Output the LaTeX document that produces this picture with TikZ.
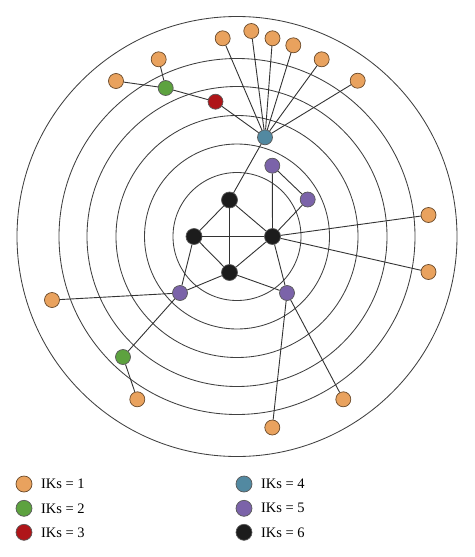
\documentclass[tikz,border=0pt]{standalone}
\usepackage{fontspec}
\setmainfont{Liberation Serif}
\usetikzlibrary{positioning}

\definecolor{ikone}{HTML}{E9A25E}
\definecolor{iktwo}{HTML}{5DA23F}
\definecolor{ikthree}{HTML}{AF1519}
\definecolor{ikfour}{HTML}{5289A1}
\definecolor{ikfive}{HTML}{7B63A9}
\definecolor{iksix}{HTML}{1C1C1C}

\tikzset{
  ik/.style={circle,inner sep=0pt,minimum size=15pt,draw=black!65,line width=.7pt},
  ikA/.style={ik,fill=ikone,draw=ikone!45!black},
  ikB/.style={ik,fill=iktwo},
  ikC/.style={ik,fill=ikthree},
  ikD/.style={ik,fill=ikfour},
  ikE/.style={ik,fill=ikfive},
  ikF/.style={ik,fill=iksix,minimum size=16pt},
  ring/.style={black!75,line width=.85pt},
  tie/.style={black!80,line width=.9pt}
}

\begin{document}
\begin{tikzpicture}[x=1pt,y=-1pt]
  \useasboundingbox (0,0) rectangle (474,557);
  \foreach \r in {64,92.5,121,150,178,220} {
    \draw[ring] (237,236.5) circle[radius=\r pt];
  }
  \node[ikF] (core1) at (229.5,200) {};
  \node[ikF] (core2) at (194,236.5) {};
  \node[ikF] (core3) at (272.5,236.5) {};
  \node[ikF] (core4) at (229.5,272.5) {};
  \node[ikE] (five1) at (272.3,165.7) {};
  \node[ikE] (five2) at (307.7,199.5) {};
  \node[ikE] (five3) at (180,293) {};
  \node[ikE] (five4) at (287,293) {};
  \node[ikD] (hub) at (265,137.3) {};
  \node[ikC] (three1) at (215.5,101.7) {};
  \node[ikB] (two1) at (165.7,88) {};
  \node[ikB] (two2) at (123,357) {};
  \node[ikA] (one1) at (116,81) {};
  \node[ikA] (one2) at (158.7,59.3) {};
  \node[ikA] (one3) at (222.7,38.3) {};
  \node[ikA] (one4) at (251.3,31) {};
  \node[ikA] (one5) at (272.5,38.3) {};
  \node[ikA] (one6) at (293.3,45.3) {};
  \node[ikA] (one7) at (321.7,59.3) {};
  \node[ikA] (one8) at (357.7,80.7) {};
  \node[ikA] (one9) at (428.5,215) {};
  \node[ikA] (one10) at (428.5,272) {};
  \node[ikA] (one11) at (52,300) {};
  \node[ikA] (one12) at (137.3,399.3) {};
  \node[ikA] (one13) at (272.3,427.5) {};
  \node[ikA] (one14) at (343.3,399.3) {};
  \foreach \a/\b in {one1/two1,one2/two1,two1/three1,three1/hub,
      hub/one3,hub/one4,hub/one5,hub/one6,hub/one7,hub/one8,hub/core1,
      core1/core2,core1/core3,core1/core4,core2/core3,core2/core4,core3/core4,
      five1/core3,five1/five2,five2/core3,
      five3/core2,five3/core4,five3/one11,five3/two2,two2/one12,
      five4/core4,five4/core3,five4/one13,five4/one14,
      core3/one9,core3/one10} {
    \draw[tie] (\a) -- (\b);
  }
  \foreach \n/\s/\x/\y in {1/ikA/24/484,2/ikB/24/508.3,3/ikC/24/532.3,
      4/ikD/244/484,5/ikE/244/508.3,6/ikF/244/532.3} {
    \node[\s,minimum size=16pt] (key\n) at (\x,\y) {};
    \node[right=8.5pt of key\n,inner sep=0pt,font=\fontsize{14.5}{16}\selectfont]
      (keytext\n) {IKs = \n};
  }
\end{tikzpicture}
\end{document}
